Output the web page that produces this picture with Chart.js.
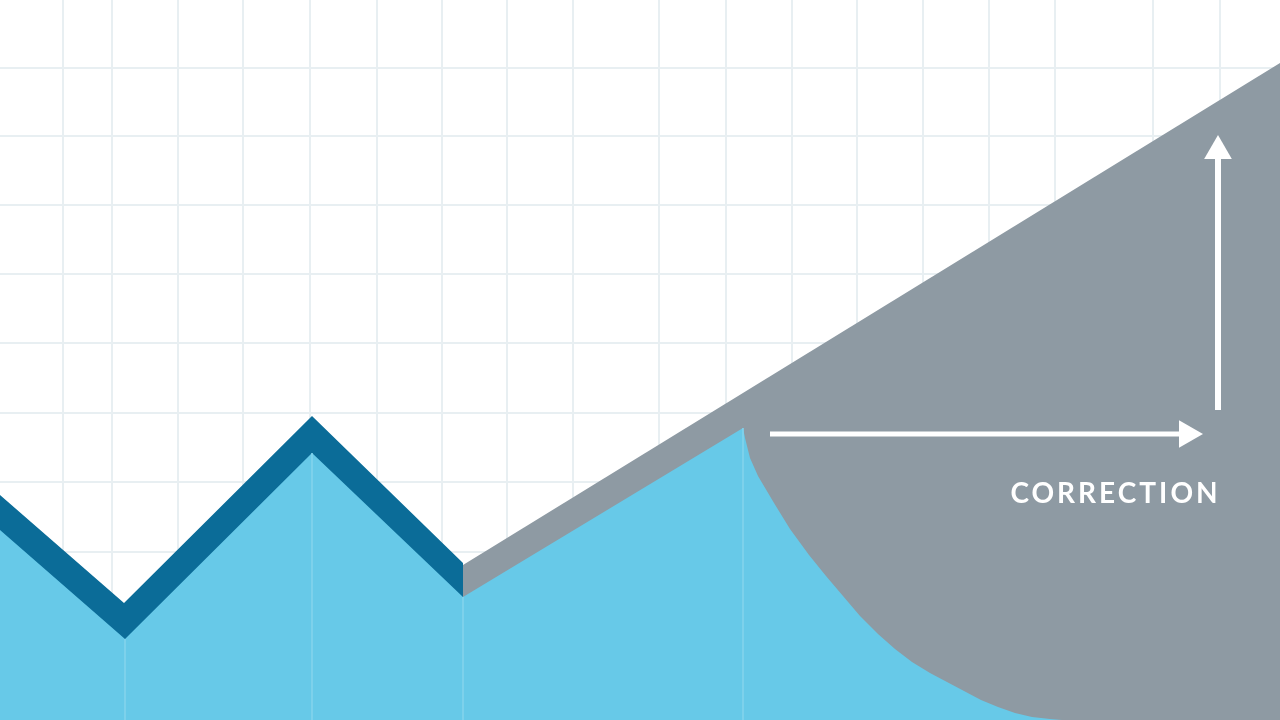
<!DOCTYPE html>
<html>
<head>
<meta charset="utf-8">
<script src="https://cdn.jsdelivr.net/npm/chart.js@4.4.1/dist/chart.umd.min.js"></script>
<style>
  html, body { margin: 0; padding: 0; background: #ffffff; overflow: hidden; }
  #wrap { width: 1280px; height: 720px; }
</style>
</head>
<body>
<div id="wrap"><canvas id="chart" width="1280" height="720"></canvas></div>
<script>
// grid positions (x from left, y from bottom)
const gridX = [63, 112, 178, 243, 310, 377, 442, 507, 573, 659, 726, 792, 857, 923, 989, 1055, 1153, 1220];
const gridY = [30, 99, 168, 238, 307, 377, 446, 515, 584, 652];

// dark blue band (top edge)
const darkX = [0, 124, 312, 463];
const darkY = [225, 117, 304, 157];

// light blue area before the drop
const blueX = [0, 125, 312, 463, 743];
const blueY = [190, 81, 267, 123, 292];

// the drop after the peak
const dropX = [743, 745, 750, 758, 774, 790, 809, 826, 843, 860, 878, 895, 912, 930, 947, 964, 981, 998, 1015, 1032, 1050, 1062];
const dropY = [292, 282, 262, 244, 217, 191, 165, 144, 124, 104, 86, 71, 58, 47, 38, 29, 20, 13, 7, 3, 1, 0];

// grey rising trend
const greyX = [463, 1280];
const greyY = [155, 657];

// arrows
const arrowH = { x: [770, 1182], y: [286, 286], head: [1187, 286] };
const arrowV = { x: [1218, 1218], y: [310, 562], head: [1218, 569] };

const label = 'CORRECTION';
const labelPos = [1114, 226];

const pts = (xs, ys) => xs.map((x, i) => ({ x: x, y: ys[i] }));

function area(xs, ys, color, order) {
  return {
    data: pts(xs, ys),
    borderWidth: 0,
    borderColor: color,
    backgroundColor: color,
    fill: 'origin',
    pointRadius: 0,
    tension: 0,
    order: order
  };
}

const datasets = [
  area(greyX, greyY, '#8e9aa3', 10),
  area(darkX, darkY, '#0b6c98', 9),
  area(blueX, blueY, '#67c9e8', 8),
  area(dropX, dropY, '#67c9e8', 8)
];

// thin lighter lines under each light blue vertex
blueX.slice(1).forEach((x, i) => {
  datasets.push({
    data: [{ x: x, y: 0 }, { x: x, y: blueY[i + 1] }],
    borderColor: '#84d3ec',
    borderWidth: 1.5,
    pointRadius: 0,
    fill: false,
    order: 7
  });
});

[arrowH, arrowV].forEach((a, i) => {
  datasets.push({
    data: pts(a.x, a.y),
    borderColor: '#ffffff',
    borderWidth: i === 0 ? 5 : 6,
    pointRadius: 0,
    fill: false,
    order: 2
  });
  datasets.push({
    data: [{ x: a.head[0], y: a.head[1] }],
    showLine: false,
    pointStyle: 'triangle',
    rotation: i === 0 ? 90 : 0,
    pointRadius: 16,
    pointBorderWidth: 0,
    backgroundColor: '#ffffff',
    borderColor: '#ffffff',
    order: 1
  });
});

const textPlugin = {
  id: 'label',
  afterDatasetsDraw(chart) {
    const { ctx, scales } = chart;
    ctx.save();
    ctx.fillStyle = '#ffffff';
    ctx.font = '700 28px Lato, "Open Sans", sans-serif';
    ctx.letterSpacing = '3px';
    ctx.textAlign = 'center';
    ctx.textBaseline = 'middle';
    ctx.fillText(label, scales.x.getPixelForValue(labelPos[0]) + 1.5, scales.y.getPixelForValue(labelPos[1]));
    ctx.restore();
  }
};

const gridOpts = { color: '#e8eff2', lineWidth: 2, drawTicks: false };

new Chart(document.getElementById('chart'), {
  type: 'line',
  data: { datasets: datasets },
  options: {
    responsive: false,
    animation: false,
    layout: { padding: 0, autoPadding: false },
    plugins: { legend: { display: false }, tooltip: { enabled: false } },
    scales: {
      x: {
        type: 'linear', min: 0, max: 1280,
        grid: gridOpts, border: { display: false },
        ticks: { display: false },
        afterBuildTicks: s => { s.ticks = gridX.map(v => ({ value: v })); }
      },
      y: {
        type: 'linear', min: 0, max: 720,
        grid: gridOpts, border: { display: false },
        ticks: { display: false },
        afterBuildTicks: s => { s.ticks = gridY.map(v => ({ value: v })); }
      }
    }
  },
  plugins: [textPlugin]
});
</script>
</body>
</html>
